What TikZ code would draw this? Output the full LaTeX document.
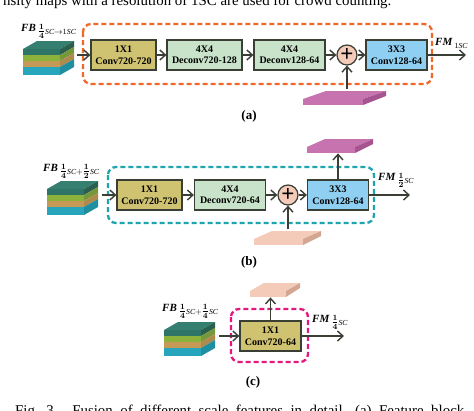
\documentclass[tikz,border=0pt]{standalone}
\usepackage{amsmath}
\usepackage{fontspec}
\setmainfont{Liberation Serif}
\usepackage{tikz}
\usetikzlibrary{arrows.meta, positioning}
\definecolor{convy}{HTML}{CFC271}
\definecolor{deconvg}{HTML}{C8E3C9}
\definecolor{convb}{HTML}{8FCFF2}
\definecolor{dashorange}{HTML}{F0682A}
\definecolor{dashteal}{HTML}{1FA3AE}
\definecolor{dashpink}{HTML}{E3187F}
\definecolor{plump}{HTML}{C773B0}
\definecolor{plumpside}{HTML}{A5548F}
\definecolor{peach}{HTML}{F3CBB8}
\definecolor{peachside}{HTML}{D3A692}
\definecolor{edgegray}{HTML}{3A3F36}
\definecolor{layertop}{HTML}{357F70}
\definecolor{layerdark}{HTML}{2E7467}
\definecolor{layerdarks}{HTML}{2A5E4F}
\definecolor{layergreen}{HTML}{8CB23C}
\definecolor{layergreens}{HTML}{76983A}
\definecolor{layerorange}{HTML}{C49A56}
\definecolor{layeroranges}{HTML}{AE8A4C}
\definecolor{layerteal}{HTML}{26A5BD}
\definecolor{layerteals}{HTML}{1E8EA0}
\newcommand{\bfrac}[2]{{\textstyle\boldsymbol{\frac{#1}{#2}}}}
\newcommand{\lowsub}[1]{\hspace{2pt}\raisebox{-3pt}{$\scriptstyle #1$}}
% stack of feature maps: name, left x, back y
\newcommand{\featstack}[3]{
  \begin{scope}[shift={(#2,#3)}]
    \fill[layertop] (0,8) -- (14,0) -- (51,0) -- (37,8) -- cycle;
    \fill[layerdark] (0,8) rectangle (37,14);
    \fill[layergreen] (0,14) rectangle (37,20);
    \fill[layerorange] (0,20) rectangle (37,26);
    \fill[layerteal] (0,26) rectangle (37,34);
    \fill[layerdarks] (37,8) -- (51,0) -- (51,6) -- (37,14) -- cycle;
    \fill[layergreens] (37,14) -- (51,6) -- (51,12) -- (37,20) -- cycle;
    \fill[layeroranges] (37,20) -- (51,12) -- (51,18) -- (37,26) -- cycle;
    \fill[layerteals] (37,26) -- (51,18) -- (51,26) -- (37,34) -- cycle;
    \node[anchor=north west, inner sep=0, minimum width=51, minimum height=34] (#1) at (0,0) {};
  \end{scope}
}
% flat plate: name, left x, top y, front width, depth, top colour, side colour
\newcommand{\featplate}[7]{
  \begin{scope}[shift={(#2,#3)}]
    \fill[#6] (0,8) -- (#5,0) -- (#4+#5,0) -- (#4,8) -- cycle;
    \fill[#6] (0,8) rectangle (#4,14);
    \fill[#7] (#4,8) -- (#4+#5,0) -- (#4+#5,5) -- (#4,14) -- cycle;
    \node[anchor=north west, inner sep=0, minimum width=#4+#5, minimum height=14] (#1) at (0,0) {};
  \end{scope}
}

\begin{document}
\begin{tikzpicture}[
    x=1pt, y=-1pt,
    conv/.style={rectangle, draw=edgegray, line width=1.2pt, fill=convy, minimum height=30pt, inner sep=0pt, align=center, font=\bfseries\fontsize{10}{11.5}\selectfont},
    deconv/.style={conv, fill=deconvg},
    convblue/.style={conv, fill=convb},
    plusnode/.style={circle, draw=edgegray, line width=1.2pt, fill=peach, minimum size=20pt, inner sep=0pt, font=\bfseries\fontsize{23}{23}\selectfont},
    arrow/.style={-{Straight Barb[length=5.5pt, width=10pt, line width=1.4pt]}, line width=1.4pt, edgegray},
    fuse/.style={rounded corners=8pt, line width=2.3pt, dash pattern=on 5pt off 3pt},
    scale label/.style={inner sep=0pt, anchor=base west, font=\bfseries\itshape\fontsize{11}{12}\selectfont},
    panel/.style={inner sep=0pt, font=\bfseries\fontsize{13}{14}\selectfont},
    body/.style={inner sep=0pt, anchor=base west, font=\fontsize{14.9}{16}\selectfont},
]
\useasboundingbox (0,0) rectangle (474,410);
\clip (0,0) rectangle (474,410);
\fill[white] (0,0) rectangle (474,410);

% Running text
\node[body] (bodytop) at (3,5) {nsity maps with a resolution of 1SC are used for crowd counting.};
\node[body] (bodybottom) at (15,415) {Fig.~~3.~~~~Fusion~ of~ different~ scale~ features~ in~ detail.~ (a)~ Feature~ block};

% Panel a
\featstack{fba}{23}{41}
\node[conv, minimum width=65pt] (oneA) at (123.5,55) {1X1\\Conv720-720};
\node[deconv, minimum width=75pt] (twoA) at (204.5,55) {4X4\\Deconv720-128};
\node[deconv, minimum width=71pt] (threeA) at (289.5,55) {4X4\\Deconv128-64};
\node[plusnode] (sumA) at (347,55) {+};
\node[convblue, minimum width=61pt] (fourA) at (396.5,55) {3X3\\Conv128-64};
\featplate{plateA}{303}{91}{60}{23}{plump}{plumpside}
\coordinate (inA) at (77,55);
\coordinate (outA) at (466,55);
\draw[fuse, dashorange] (83,24) rectangle (432,84);
\node[scale label] (fbAlabel) at (21,31) {FB\lowsub{\bfrac{1}{4}\mathit{SC}\rightarrow 1\mathit{SC}}};
\node[scale label] (fmAlabel) at (435,45) {FM\lowsub{1\mathit{SC}}};
\node[panel] (capA) at (249,116) {(a)};

\draw[arrow] (inA) -- (oneA);
\draw[arrow] (oneA) -- (twoA);
\draw[arrow] (twoA) -- (threeA);
\draw[arrow] (threeA) -- (sumA);
\draw[arrow] (sumA) -- (fourA);
\draw[arrow] (fourA) -- (outA);
\draw[arrow] (plateA.north -| sumA) ++(0,-2) -- (sumA);

% Panel b
\featstack{fbb}{47}{181}
\node[conv, minimum width=65pt] (oneB) at (149.5,195) {1X1\\Conv720-720};
\node[deconv, minimum width=71pt] (twoB) at (230,195) {4X4\\Deconv720-64};
\node[plusnode] (sumB) at (288,195) {+};
\node[convblue, minimum width=61pt] (fourB) at (338,195) {3X3\\Conv128-64};
\featplate{plateB}{307}{139}{48}{18}{plump}{plumpside}
\featplate{plateC}{254}{231}{49}{18}{peach}{peachside}
\coordinate (inB) at (102,195);
\coordinate (outB) at (410,195);
\draw[fuse, dashteal] (108,167) rectangle (374,223);
\node[scale label] (fbBlabel) at (43,171) {FB\lowsub{\bfrac{1}{4}\mathit{SC}+\bfrac{1}{2}\mathit{SC}}};
\node[scale label] (fmBlabel) at (378,180) {FM\lowsub{\bfrac{1}{2}\mathit{SC}}};
\node[panel] (capB) at (249,262) {(b)};

\draw[arrow] (inB) -- (oneB);
\draw[arrow] (oneB) -- (twoB);
\draw[arrow] (twoB) -- (sumB);
\draw[arrow] (sumB) -- (fourB);
\draw[arrow] (fourB) -- (outB);
\draw[arrow] (fourB) -- (plateB.south -| fourB);
\draw[arrow] (plateC.north -| sumB) ++(0,-2) -- (sumB);

% Panel c
\featstack{fbc}{164}{322}
\node[conv, minimum width=61pt] (oneC) at (270.5,336) {1X1\\Conv720-64};
\featplate{plateD}{250}{283}{36}{14}{peach}{peachside}
\coordinate (inC) at (219,336);
\coordinate (outC) at (344,336);
\draw[fuse, dashpink] (231,309) rectangle (308,362);
\node[scale label] (fbClabel) at (162,311) {FB\lowsub{\bfrac{1}{4}\mathit{SC}+\bfrac{1}{4}\mathit{SC}}};
\node[scale label] (fmClabel) at (312,322) {FM\lowsub{\bfrac{1}{4}\mathit{SC}}};
\node[panel] (capC) at (253,382) {(c)};

\draw[arrow] (inC) -- (oneC);
\draw[arrow] (oneC) -- (outC);
\draw[arrow] (oneC) -- (plateD.south -| oneC);

\end{tikzpicture}
\end{document}
